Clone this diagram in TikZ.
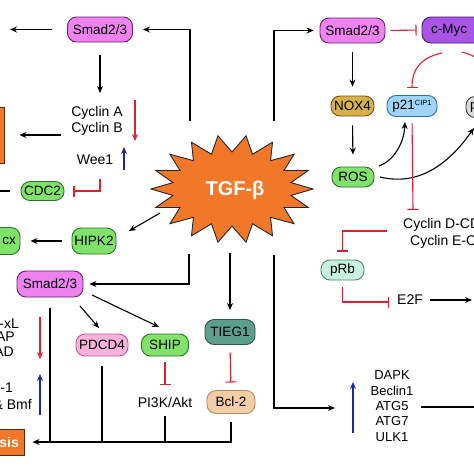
\documentclass[tikz,border=0pt]{standalone}
\usepackage{fontspec}
\setmainfont{Liberation Sans}
\usetikzlibrary{arrows.meta,calc}
\definecolor{magF}{HTML}{EE82EE}\definecolor{magD}{HTML}{6B1F6B}
\definecolor{purF}{HTML}{A855E6}\definecolor{purD}{HTML}{4B1A6E}
\definecolor{grnF}{HTML}{80E26A}\definecolor{grnD}{HTML}{2E6E2E}
\definecolor{orgF}{HTML}{F07828}\definecolor{orgD}{HTML}{5A2608}
\definecolor{bluF}{HTML}{A0D4F8}\definecolor{bluD}{HTML}{2D6DA8}
\definecolor{noxF}{HTML}{D6B048}\definecolor{noxD}{HTML}{6E5412}
\definecolor{tieF}{HTML}{5E9E8C}\definecolor{tieD}{HTML}{2C5A4E}
\definecolor{bclF}{HTML}{F2CDA6}\definecolor{bclD}{HTML}{B48A60}
\definecolor{pdcF}{HTML}{F7B3DA}\definecolor{pdcD}{HTML}{D0509A}
\definecolor{prbF}{HTML}{C9F0DF}\definecolor{prbD}{HTML}{3E8E6C}
\definecolor{gryF}{HTML}{D9D9D9}\definecolor{gryD}{HTML}{444444}
\definecolor{inhred}{HTML}{E0202E}\definecolor{upblue}{HTML}{1A2A9A}
\begin{document}
\begin{tikzpicture}[x=1pt,y=-1pt,
  txt/.style={font=\fontsize{14}{16}\selectfont, inner sep=0pt, align=center},
  pill/.style={draw, rounded corners=9pt, line width=0.9pt, inner sep=0pt, font=\fontsize{13.5}{15}\selectfont},
  magpill/.style={pill, fill=magF, draw=magD},
  purpill/.style={pill, fill=purF, draw=purD},
  grnpill/.style={pill, fill=grnF, draw=grnD},
  blupill/.style={pill, fill=bluF, draw=bluD},
  noxpill/.style={pill, fill=noxF, draw=noxD},
  tiepill/.style={pill, fill=tieF, draw=tieD},
  bclpill/.style={pill, fill=bclF, draw=bclD},
  pdcpill/.style={pill, fill=pdcF, draw=pdcD},
  prbpill/.style={pill, fill=prbF, draw=prbD},
  grypill/.style={pill, fill=gryF, draw=gryD},
  orgbox/.style={draw=orgD, fill=orgF, line width=1pt, inner sep=0pt},
  arr/.style={draw=black, line width=1.1pt, -{Stealth[length=7pt,width=6pt]}},
  plain/.style={draw=black, line width=1.1pt},
  inh/.style={draw=inhred, line width=1.1pt, -{Bar[width=11pt,line width=1.1pt]}},
  redarr/.style={draw=inhred, line width=1.3pt, -{Stealth[length=7pt,width=6pt]}},
  bluarr/.style={draw=upblue, line width=1.3pt, -{Stealth[length=7pt,width=6pt]}}]
\clip (0,0) rectangle (474,474);
\fill[white] (0,0) rectangle (474,474);

% TGF-beta star
\coordinate (tgfc) at (232,189);
\filldraw[fill=orgF, draw=black!85, line width=0.9pt]
  ($(tgfc)+(0:81 and 54)$) \foreach \a in {0,20,...,340}{ -- ($(tgfc)+(\a+10:60 and 37)$) -- ($(tgfc)+(\a+20:81 and 54)$) } -- cycle;
\node[font=\bfseries\fontsize{20}{22}\selectfont, text=white] (tgf) at (235,190) {TGF-β};

% nodes
\node[magpill, minimum width=65pt, minimum height=25pt] (smadTL) at (100,29.5) {Smad2/3};
\node[magpill, minimum width=65pt, minimum height=25pt] (smadTR) at (352.5,30.5) {Smad2/3};
\node[magpill, minimum width=66pt, minimum height=26pt] (smadB) at (50,284) {Smad2/3};
\node[purpill, minimum width=80pt, minimum height=26pt] (cmyc) at (462,30) {};
\node[txt, font=\fontsize{13.5}{15}\selectfont] (cmyctxt) at (449,30) {c-Myc};
\node[grnpill, minimum width=43pt, minimum height=19pt] (cdc2) at (42.5,191) {CDC2};
\node[grnpill, minimum width=44pt, minimum height=26pt] (hipk2) at (94,241) {HIPK2};
\node[grnpill, minimum width=50pt, minimum height=27pt] (cx) at (-5,241) {};
\node[txt, anchor=east, font=\fontsize{13.5}{15}\selectfont] (cxtxt) at (16,241) {cx};
\node[orgbox, minimum width=44pt, minimum height=56pt] (org1) at (-18,135) {};
\node[orgbox, minimum width=60pt, minimum height=26pt] (apop) at (-6,442) {};
\node[txt, anchor=east, text=white, font=\bfseries\fontsize{14}{15}\selectfont] (apoptxt) at (19,442) {sis};
\node[pdcpill, minimum width=52pt, minimum height=22pt] (pdcd4) at (102,345) {PDCD4};
\node[grnpill, minimum width=47pt, minimum height=22pt] (ship) at (165,345) {SHIP};
\node[tiepill, minimum width=50pt, minimum height=25pt] (tieg1) at (230,332) {TIEG1};
\node[bclpill, minimum width=48pt, minimum height=23pt] (bcl2) at (231,402) {Bcl-2};
\node[prbpill, minimum width=43pt, minimum height=20pt] (prb) at (342.5,270) {pRb};
\node[noxpill, minimum width=43pt, minimum height=20pt] (nox4) at (352.5,106) {NOX4};
\node[grnpill, minimum width=42pt, minimum height=20pt] (ros) at (353,177) {ROS};
\node[blupill, minimum width=50pt, minimum height=21pt] (p21) at (412,106) {p21\raisebox{3.5pt}{\fontsize{7.5}{8}\selectfont CIP1}};
\node[grypill, minimum width=50pt, minimum height=21pt] (pg) at (491,107) {};
\node[txt, anchor=west, font=\fontsize{13.5}{15}\selectfont] (pgtxt) at (470,107.5) {p};

% text nodes
\node[txt] (cycAB) at (97,121) {Cyclin A\\Cyclin B};
\node[txt] (wee1) at (95,160) {Wee1};
\node[txt] (pi3k) at (165,402) {PI3K/Akt};
\node[txt] (e2f) at (410,300) {E2F};
\node[txt, anchor=west] (cycD) at (403,225) {Cyclin D-CD};
\node[txt, anchor=west] (cycE) at (410,242) {Cyclin E-C};
\node[txt, font=\fontsize{13}{15.3}\selectfont] (dapk) at (392,406) {DAPK\\Beclin1\\ATG5\\ATG7\\ULK1};
\node[txt, anchor=east] (lt1) at (19,323) {l-xL};
\node[txt, anchor=east] (lt2) at (15,337) {AP};
\node[txt, anchor=east] (lt3) at (14,352) {AD};
\node[txt, anchor=east] (lt4) at (13,388) {P-1};
\node[txt, anchor=east] (lt5) at (32,404) {\& Bmf};

% coordinates
\coordinate (e1) at (10,29.5);
\coordinate (tA) at (190,121);
\coordinate (e3) at (100,93);
\coordinate (e4a) at (61,135);
\coordinate (rdA) at (135,100); \coordinate (rdB) at (135,141);
\coordinate (buA) at (124,170); \coordinate (buB) at (124,147);
\coordinate (e7) at (100,179);
\coordinate (e8) at (-2,191);
\coordinate (tH) at (160,213); \coordinate (e9) at (129,231);
\coordinate (tB) at (189,254);
\coordinate (e12a) at (80,306); \coordinate (e12b) at (99,328);
\coordinate (e13a) at (92,295); \coordinate (e13b) at (159,327);
\coordinate (e15) at (165,385);
\coordinate (tT) at (230,253);
\coordinate (tD) at (274,255); \coordinate (e18) at (335,408);
\coordinate (bu2A) at (353,433); \coordinate (bu2B) at (353,382);
\coordinate (e20a) at (421,407); \coordinate (e20b) at (480,407);
\coordinate (tR) at (274,121);
\coordinate (r1a) at (379,166); \coordinate (r1b) at (405,122);
\coordinate (r2a) at (380,177); \coordinate (r2b) at (474,128);
\coordinate (m1a) at (442,53); \coordinate (m1b) at (412,88);
\coordinate (m2a) at (462,52); \coordinate (m2b) at (492,72);
\coordinate (e29) at (413,210);
\coordinate (e30) at (387,231);
\coordinate (e31) at (389,302);
\coordinate (e32a) at (430,300); \coordinate (e32b) at (472,300);
\coordinate (rd2A) at (40,317); \coordinate (rd2B) at (40,359);
\coordinate (bu3A) at (40,415); \coordinate (bu3B) at (40,374);

% connectors
\draw[arr, shorten <=15pt] (smadTL.west) -- (e1);
\draw[arr, shorten >=10pt] (tA) |- (smadTL.east);
\draw[arr, shorten <=13pt] (smadTL.south) -- (e3);
\draw[arr, shorten >=15pt] (e4a) -- (org1.east |- e4a);
\draw[redarr] (rdA) -- (rdB);
\draw[bluarr] (buA) -- (buB);
\draw[inh, shorten >=9pt] (e7) |- (cdc2.east);
\draw[plain, shorten <=11pt] (cdc2.west) -- (e8);
\draw[arr] (tH) -- (e9);
\draw[arr, shorten <=10pt, shorten >=10pt] (hipk2.west) -- (cx.east);
\draw[arr, shorten >=6pt] (tB) |- (smadB.east);
\draw[arr] (e12a) -- (e12b);
\draw[arr] (e13a) -- (e13b);
\draw[arr, shorten <=8.5pt, shorten >=8pt] (bcl2.south) |- (apop.east);
\draw[plain, shorten <=11pt] (smadB.south) -- (smadB.south |- apop.east);
\draw[plain, shorten <=10pt] (pdcd4.south) -- (pdcd4.south |- apop.east);
\draw[plain, shorten <=9pt] (pi3k.south) -- (pi3k.south |- apop.east);
\draw[inh, shorten <=6pt] (ship.south) -- (e15);
\draw[arr, shorten >=9pt] (tT) -- (tieg1.north);
\draw[inh, shorten <=7.5pt, shorten >=7.5pt] (tieg1.south) -- (bcl2.north);
\draw[arr] (tD) |- (e18);
\draw[bluarr] (bu2A) -- (bu2B);
\draw[plain] (e20a) -- (e20b);
\draw[arr, shorten >=6pt] (tR) |- (smadTR.west);
\draw[inh, shorten <=5pt, shorten >=5pt] (smadTR.east) -- (cmyc.west);
\draw[arr, shorten <=9pt, shorten >=9pt] (smadTR.south) -- (nox4.north);
\draw[arr, shorten <=9pt, shorten >=12pt] (nox4.south) -- (ros.north);
\draw[arr] (r1a) .. controls (395,160) and (404,142) .. (r1b);
\draw[arr] (r2a) .. controls (425,188) and (455,155) .. (r2b);
\draw[inh] (m1a) .. controls (424,57) and (412,66) .. (m1b);
\draw[draw=inhred, line width=1.1pt] (m2a) .. controls (475,56) .. (m2b);
\draw[inh, shorten <=6.5pt] (p21.south) -- (e29);
\draw[inh, shorten >=8pt] (e30) -| (prb.north);
\draw[inh, shorten <=7pt] (prb.south) |- (e31);
\draw[arr] (e32a) -- (e32b);
\draw[redarr] (rd2A) -- (rd2B);
\draw[bluarr] (bu3A) -- (bu3B);
\end{tikzpicture}
\end{document}
